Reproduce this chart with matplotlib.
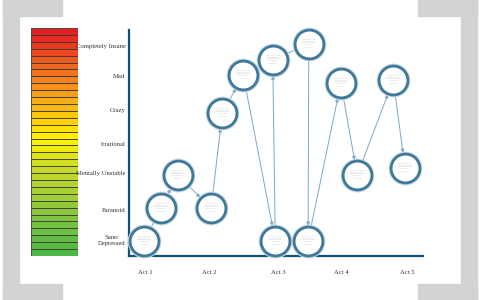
import matplotlib
matplotlib.use("Agg")
import matplotlib.pyplot as plt
from matplotlib.patches import Rectangle
from matplotlib.colors import LinearSegmentedColormap
import numpy as np

# niveles de locura (de abajo hacia arriba)
niveles = ["Sane/\nDepressed", "Paranoid", "Mentally Unstable", "Irrational",
           "Crazy", "Mad", "Completely Insane"]
pos_niveles = [0.05, 0.95, 2.1, 3.0, 4.05, 5.1, 6.05]

actos = ["Act 1", "Act 2", "Act 3", "Act 4", "Act 5"]
pos_actos = [1.0, 1.98, 3.03, 3.99, 5.0]

# momentos de la historia, en orden
momento_x = [0.99, 1.24, 1.50, 2.01, 2.18, 2.50, 2.99, 2.95, 3.50, 3.49, 3.99, 4.24, 4.79, 4.97]
momento_y = [0.0, 1.02, 2.04, 1.02, 3.96, 5.14, 0.0, 5.60, 6.10, 0.0, 4.89, 2.04, 4.98, 2.26]
con_flecha = [False, True, True, True, True, True, True, False, True, True, True, True, True]

n_bandas = 33

azul_eje = "#0d5379"
azul_borde = "#3f7898"
azul_linea = "#7fa8c6"

fig = plt.figure(figsize=(4.8, 3), dpi=100)
fig.patch.set_facecolor("white")

# esquinas grises
gris = "#d3d3d3"
for (x0, y0, w, h) in [(3, 0, 59, 16), (3, 0, 16, 300), (3, 284, 59, 16),
                       (418, 0, 59, 16), (461, 0, 16, 300), (418, 284, 59, 16)]:
    fig.patches.append(Rectangle((x0 / 480, 1 - (y0 + h) / 300), w / 480, h / 300,
                                 transform=fig.transFigure, color=gris, zorder=0))

# barra de colores
ax_barra = fig.add_axes([31 / 480, 44 / 300, 47 / 480, 228 / 300])
cmap = LinearSegmentedColormap.from_list("locura", [
    (0.0, "#4db848"), (0.2, "#8dc63f"), (0.38, "#c8da2b"), (0.52, "#fff200"),
    (0.66, "#fdb913"), (0.8, "#f47b20"), (1.0, "#e31e24")])
bandas = np.arange(n_bandas)
ax_barra.barh(bandas, 1, height=1, align="edge",
              color=cmap(bandas / (n_bandas - 1)), edgecolor="#3a3a2a", linewidth=0.6)
ax_barra.set_xlim(0, 1)
ax_barra.set_ylim(0, n_bandas)
ax_barra.axis("off")

# grafico principal
ax = fig.add_axes([129 / 480, 44 / 300, 294 / 480, 226 / 300])
ax.set_xlim(0.756, 5.244)
ax.set_ylim(-0.46, 6.53)
ax.set_facecolor("none")
for lado in ["top", "right"]:
    ax.spines[lado].set_visible(False)
for lado in ["left", "bottom"]:
    ax.spines[lado].set_color(azul_eje)
    ax.spines[lado].set_linewidth(1.6)

fuente = "Liberation Serif"
ax.set_yticks(pos_niveles)
ax.set_yticklabels(niveles, fontsize=4.8, family=fuente, color="#333333")
for etiqueta in ax.get_yticklabels():
    etiqueta.set_multialignment("center")
ax.set_xticks(pos_actos)
ax.set_xticklabels(actos, fontsize=4.8, family=fuente, color="#333333")
ax.tick_params(axis="y", length=0, pad=2.5)
ax.tick_params(axis="x", length=0, pad=10)

# conexiones
for i in range(len(momento_x) - 1):
    estilo = "-|>" if con_flecha[i] else "-"
    ax.annotate("", xy=(momento_x[i + 1], momento_y[i + 1]),
                xytext=(momento_x[i], momento_y[i]),
                arrowprops=dict(arrowstyle=estilo, color=azul_linea, lw=0.7,
                                mutation_scale=5, shrinkA=11, shrinkB=11),
                zorder=2)

# circulos
ax.scatter(momento_x, momento_y, s=480, facecolor="white", edgecolor="#c3d7e4",
           linewidth=2.4, zorder=3, clip_on=False)
ax.scatter(momento_x, momento_y, s=430, facecolor="white", edgecolor=azul_borde,
           linewidth=2.0, zorder=4, clip_on=False)

texto = "\u2015\u2015\u2015\u2015\u2015\u2015\n\u2015\u2015\u2015\u2015\u2015\n\u2015\u2015\u2015\u2015\u2015\u2015\n\u2015\u2015\u2015\u2015\n\n\u2015\u2015\u2015"
for x, y in zip(momento_x, momento_y):
    ax.text(x, y, texto, fontsize=1.7, color="#666666", ha="center", va="center",
            zorder=5, linespacing=1.5)

fig.savefig("out.png", dpi=100, facecolor="white")
